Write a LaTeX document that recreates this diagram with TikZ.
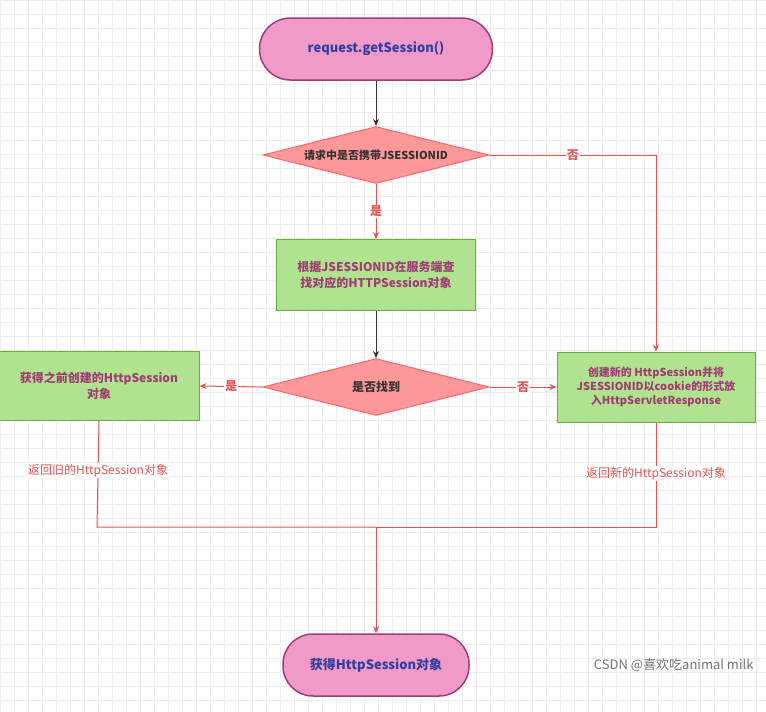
\documentclass[tikz,border=0pt]{standalone}
\usepackage{fontspec}
\setmainfont{Noto Sans CJK SC}
\usetikzlibrary{shapes.geometric,arrows.meta}
\definecolor{pinkf}{HTML}{F19AC8}\definecolor{pinkd}{HTML}{A03C74}
\definecolor{bluet}{HTML}{2F3FA0}\definecolor{diaf}{HTML}{FF9999}\definecolor{diad}{HTML}{FF6666}
\definecolor{grf}{HTML}{B0E38F}\definecolor{grd}{HTML}{6AAE3F}\definecolor{redl}{HTML}{E85050}
\definecolor{gridc}{HTML}{EDEDED}
\tikzset{
 term/.style={draw=pinkd,fill=pinkf,line width=1.5pt,rounded corners=31pt,minimum width=233pt,minimum height=62pt,font=\bfseries\fontsize{13}{15}\selectfont,text=bluet},
 term2/.style={term,rounded corners=30pt,minimum width=186pt,minimum height=62pt},
 dia/.style={draw=diad,fill=diaf,line width=1pt,diamond,aspect=4,inner sep=0pt,minimum width=226pt,minimum height=57pt,font=\bfseries\fontsize{11}{13}\selectfont,text=black!80},
 box/.style={draw=grd,fill=grf,line width=1pt,align=center,font=\bfseries\fontsize{12}{16}\selectfont,text=pinkd},
 bl/.style={draw=black!80,line width=1pt,-{Stealth[length=7pt,width=6pt]}},
 rl/.style={draw=redl,line width=1pt,-{Stealth[length=7pt,width=6pt]}},
 rn/.style={draw=redl,line width=1pt},
 lab/.style={fill=white,text=redl,font=\bfseries\fontsize{12}{14}\selectfont,inner sep=1pt},
 lab2/.style={fill=white,text=redl,font=\fontsize{12}{14}\selectfont,inner sep=1pt}
}
\begin{document}
\begin{tikzpicture}[x=1pt,y=-1pt]
\useasboundingbox (0,0) rectangle (766,712);
\fill[white] (0,0) rectangle (766,712);
\draw[gridc,step=14pt] (0,0) grid (766,712);
\node[term] (start) at (376,49) {request.getSession()};
\node[dia] (d1) at (376,155) {请求中是否携带JSESSIONID};
\node[box,minimum width=199pt,minimum height=71pt] (b1) at (376,275) {根据JSESSIONID在服务端查\\找对应的HTTPSession对象};
\node[dia] (d2) at (376,387) {\fontsize{12}{14}\selectfont 是否找到};
\node[box,minimum width=200pt,minimum height=69pt] (bl) at (99,386) {获得之前创建的HttpSession\\对象};
\node[box,minimum width=198pt,minimum height=70pt,font=\bfseries\fontsize{11}{14}\selectfont] (br) at (656,387) {创建新的 HttpSession并将\\JSESSIONID以cookie的形式放\\入HttpServletResponse};
\node[term2] (end) at (376,665) {获得HttpSession对象};
\coordinate (j) at (376,527);
\draw[bl] (start) -- (d1);
\draw[rl] (d1) -- node[lab]{是} (b1);
\draw[bl] (b1) -- (d2);
\draw[rl] (d1.east) -- node[lab,pos=0.5]{否} (656,155) -- (br.north);
\draw[rl] (d2.west) -- node[lab]{是} (bl.east);
\draw[rl] (d2.east) -- node[lab]{否} (br.west);
\draw[rn] (bl.south) -- node[lab2,pos=0.47]{返回旧的HttpSession对象} (97,527) -- (j);
\draw[rn] (br.south) -- node[lab2,pos=0.49]{返回新的HttpSession对象} (656,527) -- (j);
\draw[rl] (j) -- (end);
\node[text=black!55,font=\fontsize{13}{15}\selectfont,anchor=east] (wm) at (757,665) {CSDN @喜欢吃animal milk};
\end{tikzpicture}
\end{document}
